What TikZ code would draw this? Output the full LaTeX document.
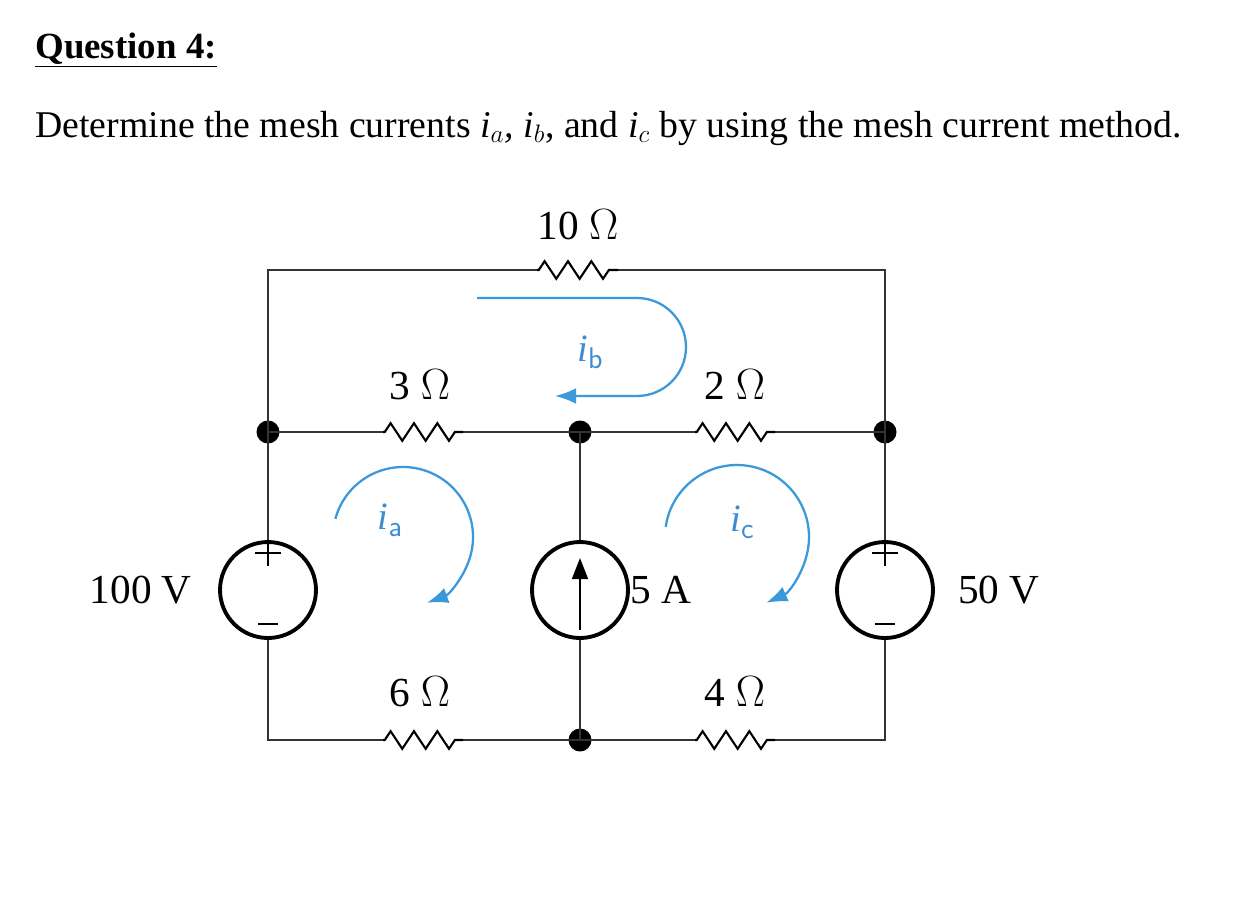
\documentclass[tikz,border=0pt]{standalone}
\usepackage{fontspec}
\setmainfont{Liberation Serif}
\usetikzlibrary{decorations.pathmorphing,arrows.meta}
\begin{document}
\begin{tikzpicture}[x=0.02cm,y=-0.02cm,
  wire/.style={line width=1.1pt,black!80},
  res/.style={line width=1.2pt,decorate,decoration={zigzag,segment length=13.3pt,amplitude=5pt,pre length=1pt,post length=1pt}},
  src/.style={circle,draw,line width=2.2pt,minimum size=1.92cm,inner sep=0pt},
  dot/.style={circle,fill=black,inner sep=0pt,minimum size=0.46cm},
  mesh/.style={draw=cyan!70!blue!80,line width=1.3pt,-{Latex[length=12pt,width=9pt]}},
  lbl/.style={font=\fontsize{23.5}{24}\selectfont},
  mlbl/.style={text=cyan!60!blue!80,font=\fontsize{22}{24}\selectfont}]
\useasboundingbox (0,0) rectangle (1234,913);
\node[anchor=west,inner sep=0pt,font=\fontsize{21}{22}\selectfont\bfseries] (q) at (35,50) {\underline{Question 4:}};
\node[anchor=west,inner sep=0pt,font=\fontsize{21.5}{24}\selectfont] (t) at (35,128) {Determine the mesh currents \textit{i}$_{a}$\textit{,} \textit{i}$_{b}$, and \textit{i}$_{c}$ by using the mesh current method.};
% coordinates
\coordinate (TL) at (268,270); \coordinate (TR) at (885,270);
\node[dot] (ML) at (268,432) {}; \node[dot] (MM) at (580,432) {}; \node[dot] (MR) at (885,432) {};
\coordinate (BL) at (268,740); \node[dot] (BM) at (580,740) {}; \coordinate (BR) at (885,740);
\node[src] (V1) at (268,590) {};
\node[src] (I1) at (580,590) {};
\node[src] (V2) at (885,590) {};
\coordinate (r10a) at (537,270); \coordinate (r10b) at (618,270);
\coordinate (r3a) at (383,432); \coordinate (r3b) at (463,432);
\coordinate (r2a) at (695,432); \coordinate (r2b) at (775,432);
\coordinate (r6a) at (383,740); \coordinate (r6b) at (463,740);
\coordinate (r4a) at (695,740); \coordinate (r4b) at (775,740);
% wires
\draw[wire] (V1.north) -- (ML.center) -- (TL) -- (r10a);
\draw[wire] (r10b) -- (TR) -- (MR.center) -- (V2.north);
\draw[wire] (ML.center) -- (r3a); \draw[wire] (r3b) -- (r2a); \draw[wire] (r2b) -- (MR.center);
\draw[wire] (MM.center) -- (I1.north); \draw[wire] (I1.south) -- (BM.center);
\draw[wire] (V1.south) -- (BL) -- (r6a); \draw[wire] (r6b) -- (r4a); \draw[wire] (r4b) -- (BR) -- (V2.south);
\foreach \a/\b in {r10a/r10b,r3a/r3b,r2a/r2b,r6a/r6b,r4a/r4b} \draw[res] (\a) -- (\b);
% source marks
\draw[line width=1.2pt] (268,540) -- (268,566) (255,553) -- (281,553) (258,624) -- (278,624);
\draw[line width=1.2pt] (885,540) -- (885,566) (872,553) -- (898,553) (875,624) -- (895,624);
\draw[line width=1.4pt,-{Triangle[length=12pt,width=9pt]}] (580,630) -- (580,558);
% labels
\node[lbl] (l10) at (578,225) {10 $\Omega$};
\node[lbl] (l3) at (420,385) {3 $\Omega$};
\node[lbl] (l2) at (735,385) {2 $\Omega$};
\node[lbl] (l6) at (420,692) {6 $\Omega$};
\node[lbl] (l4) at (735,692) {4 $\Omega$};
\node[lbl,anchor=east] (lv1) at (198,590) {100 V};
\node[lbl,anchor=west] (li) at (624,590) {5 A};
\node[lbl,anchor=west] (lv2) at (952,590) {50 V};
% mesh arrows
\draw[mesh] (477,298) -- (637,298) arc[start angle=-90,end angle=90,radius=49] -- (555,396);
\draw[mesh] (403,537) ++(195:70) arc[start angle=195,end angle=430,radius=70];
\draw[mesh] (737,537) ++(188:72) arc[start angle=188,end angle=426,radius=72];
\node[mlbl] (ia) at (390,520) {\textit{i}\textsf{\fontsize{17}{18}\selectfont\raisebox{-4pt}{a}}};
\node[mlbl] (ib) at (590,352) {\textit{i}\textsf{\fontsize{17}{18}\selectfont\raisebox{-4pt}{b}}};
\node[mlbl] (ic) at (742,522) {\textit{i}\textsf{\fontsize{17}{18}\selectfont\raisebox{-4pt}{c}}};
\end{tikzpicture}
\end{document}
